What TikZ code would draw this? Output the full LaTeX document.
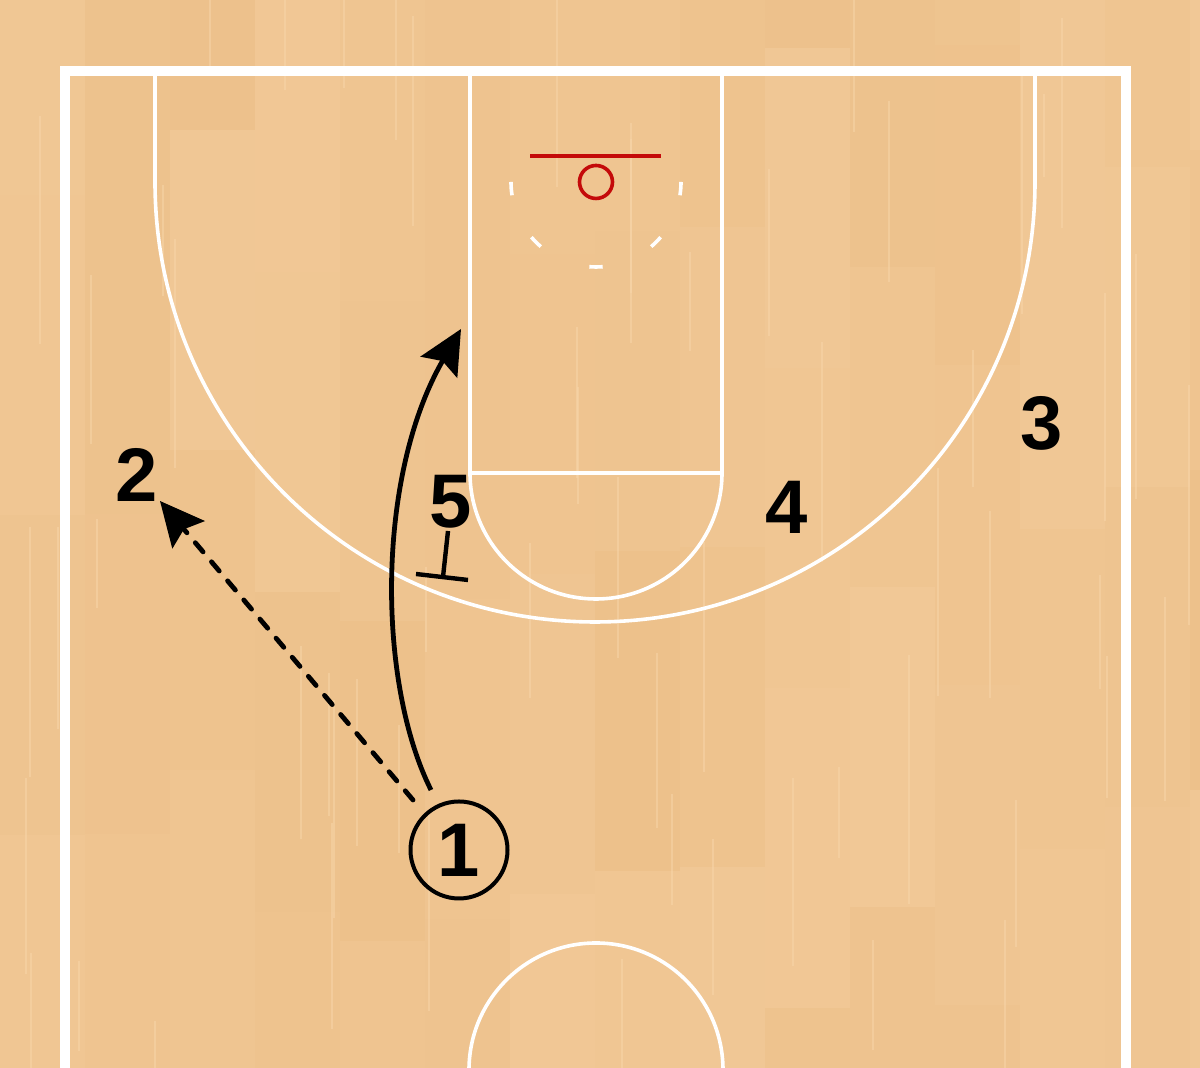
\documentclass[tikz,border=0pt]{standalone}
\usepackage{fontspec}
\setmainfont{Liberation Sans}
\usetikzlibrary{arrows.meta}
\definecolor{woodA}{RGB}{241,200,150}
\definecolor{woodB}{RGB}{234,188,132}
\definecolor{grain}{RGB}{248,214,170}
\definecolor{rimred}{RGB}{196,10,10}
\tikzset{
  courtline/.style={white, line width=1.8pt},
  borderline/.style={white, line width=5pt},
  player/.style={font=\fontsize{38}{38}\selectfont\bfseries, inner sep=0pt, text=black},
  ballplayer/.style={player, draw=black, line width=2pt, circle, minimum size=48.5pt},
  cutarrow/.style={black, line width=2.4pt, -{Stealth[length=22pt,width=21pt,inset=3.5pt]}},
  passarrow/.style={black, line width=2.4pt, dash pattern=on 6pt off 6.5pt, line cap=round, -{Stealth[length=22pt,width=21pt,inset=3.5pt]}},
  screenline/.style={black, line width=2.2pt},
}
\begin{document}
\begin{tikzpicture}[x=0.5pt, y=0.5pt]
\useasboundingbox (0,0) rectangle (1200,1068);
\clip (0,0) rectangle (1200,1068);
% wood floor
\fill[woodA] (0,0) rectangle (1200,1068);
\pgfmathsetseed{11}
\foreach \i in {0,...,14}{
  \pgfmathtruncatemacro{\off}{random(0,300)}
  \foreach \j in {0,...,4}{
    \pgfmathtruncatemacro{\sh}{random(0,60)}
    \fill[woodB!\sh!woodA] (\i*85, \j*320-\off) rectangle ++(85,320);
  }
}
\foreach \k in {0,...,60}{
  \pgfmathtruncatemacro{\gx}{random(0,1200)}
  \pgfmathtruncatemacro{\gy}{random(-100,1000)}
  \pgfmathtruncatemacro{\gl}{random(80,260)}
  \draw[grain, line width=1.2pt, opacity=0.5] (\gx,\gy) -- ++(0,\gl);
}
% border
\draw[borderline] (65,-20) -- (65,996.5) -- (1125.5,996.5) -- (1125.5,-20);
% lane
\draw[courtline] (470,994) -- (470,595) -- (722,595) -- (722,994);
% three-point line
\draw[courtline] (155,994) -- (155,886) arc[start angle=180, end angle=360, radius=440] -- (1035,994);
% free-throw circle (lower half)
\draw[courtline] (470,595) arc[start angle=180, end angle=360, radius=126];
% centre circle
\draw[courtline] (596,-2) circle[radius=127];
% restricted area dashes
\foreach \a in {180,220.5,265.5,310.5,351}{
  \draw[white, line width=1.8pt] ([shift={(\a:85)}]596,886) arc[start angle=\a, end angle=\a+9, radius=85];
}
% backboard and rim
\draw[rimred, line width=2pt] (530,912) -- (661,912);
\draw[rimred, line width=1.8pt] (596,886) circle[radius=16.5];
% players
\node[player] (n2) at (137,593) {2};
\node[player] (n5) at (451,566) {5};
\node[player] (n4) at (786.5,560.5) {4};
\node[player] (n3) at (1042,644.5) {3};
\node[ballplayer] (n1) at (459,218) {1};
% screen by 5
\coordinate (s5top) at (448,537);
\coordinate (s5bot) at (443,491);
\coordinate (s5l) at (416,494);
\coordinate (s5r) at (468,488);
\draw[screenline] (s5top) -- (s5bot);
\draw[screenline] (s5l) -- (s5r);
% cut by 1
\coordinate (cutstart) at (431,278);
\coordinate (cutend) at (461,739);
\draw[cutarrow] (cutstart) .. controls (377,386) and (376,592) .. (cutend);
% pass 1 -> 2
\coordinate (passstart) at (413,268);
\coordinate (passend) at (160,567);
\draw[passarrow] (passstart) -- (passend);
\end{tikzpicture}
\end{document}
